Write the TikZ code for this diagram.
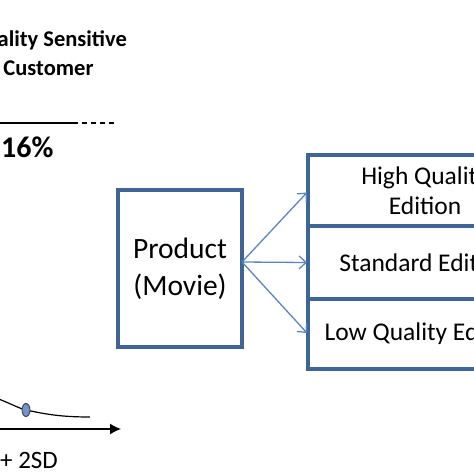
\documentclass[tikz,border=0pt]{standalone}
\usepackage{fontspec}
\setmainfont{Carlito}
\usepackage{tikz}
\usetikzlibrary{arrows.meta,calc,positioning}
\definecolor{boxblue}{HTML}{3F6496}
\definecolor{arrblue}{HTML}{5B85C0}
\definecolor{dotblue}{HTML}{7094CC}
\tikzset{
    >={Straight Barb[length=7pt,width=13pt]},
    kasse/.style={
           rectangle,
           draw=boxblue, line width=3.6pt,
           outer sep=0pt,
           inner sep=0pt,
           align=center},
    utgave/.style={
           kasse,
           minimum width=234pt,
           font=\fontsize{25.5}{30}\selectfont},
    pil/.style={
           ->,
           draw=arrblue,
           line width=1.3pt}
}

\begin{document}
\begin{tikzpicture}[x=1pt, y=-1pt, node distance=0pt]
        \useasboundingbox (0,0) rectangle (474,474);
        \clip (0,0) rectangle (474,474);

        % left part, only partly in view
        \node[align=center, font=\bfseries\fontsize{22.5}{29}\selectfont] (kunde) at (48.5,53.5) {Quality Sensitive\\Customer};
        \coordinate (l0) at (-2,123);
        \coordinate (l1) at (73,123);
        \coordinate (l2) at (114,123);
        \draw[line width=1.2pt] (l0) -- (l1);
        \draw[line width=1.2pt, dash pattern=on 5pt off 4pt] (l1) -- (l2);
        \node[anchor=west, inner sep=0pt, font=\bfseries\fontsize{30}{32}\selectfont] (andel) at (1,147) {16\%};

        \draw[line width=1.2pt] (-4,398) .. controls (12,404) and (18,408) .. (26,410)
              .. controls (45,414) and (60,417) .. (90,417);
        \filldraw[fill=dotblue, draw=black!80, line width=0.8pt] (26,410) ellipse (4 and 6.5);
        \coordinate (a0) at (-2,429);
        \coordinate (a1) at (121,429);
        \draw[line width=1.3pt, -{Latex[length=11pt,width=11pt]}] (a0) -- (a1);
        \node[anchor=west, inner sep=0pt, font=\fontsize{25}{28}\selectfont] (sd) at (0,460) {+ 2SD};

        % product and editions
        \node[kasse, minimum width=124pt, minimum height=157pt, font=\fontsize{29.5}{37}\selectfont] (produkt) at (180,268.5) {Product\\(Movie)};
        \node[utgave, minimum height=71pt, anchor=north west] (hq) at (308,155) {High Quality\\Edition};
        \node[utgave, minimum height=73pt, below=of hq] (std) {Standard Edition};
        \node[utgave, minimum height=70pt, below=of std] (lq) {Low Quality Edition};

        \coordinate (kilde) at ($(produkt.east)+(0,-6.5)$);
        \draw[pil] (kilde) -- ($(hq.west)+(-1,2)$);
        \draw[pil] (kilde) -- ($(std.west)+(-1,0)$);
        \draw[pil] (kilde) -- ($(lq.west)+(-1,-1)$);
    \end{tikzpicture}
\end{document}
